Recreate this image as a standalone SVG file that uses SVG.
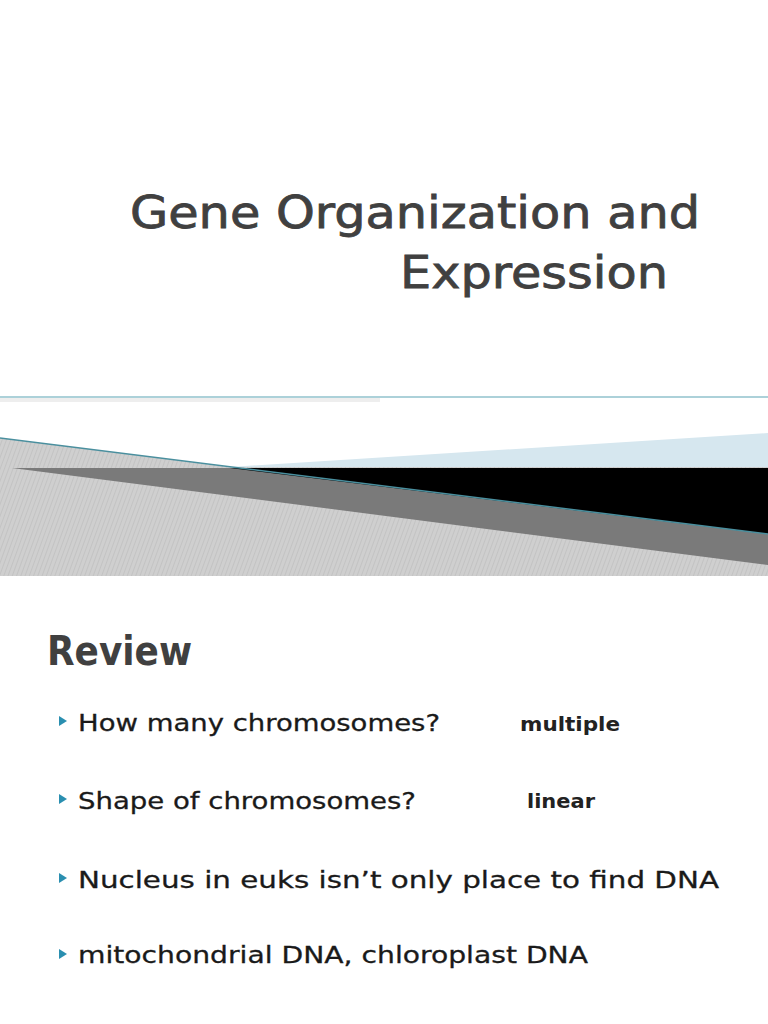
<svg xmlns="http://www.w3.org/2000/svg" width="768" height="1024" viewBox="0 0 768 1024">
<defs>
<pattern id="hatch" width="4" height="4" patternUnits="userSpaceOnUse" patternTransform="rotate(20)"><rect width="4" height="4" fill="#cfcfcf"/><line x1="0" y1="0" x2="0" y2="4" stroke="#b8b8b8" stroke-width="1"/></pattern>
</defs>
<style>
text{font-family:"DejaVu Sans",Verdana,sans-serif;fill:#3a3a3a}
.t{font-size:44px;fill:#404040;stroke:#404040;stroke-width:0.8}
.b{font-size:23px;fill:#1a1a1a;stroke:#1a1a1a;stroke-width:0.3}
.a{font-size:20px;font-weight:bold;fill:#222}
.bul{fill:#2a8fb0}
</style>
<rect width="768" height="1024" fill="#fff"/>
<line x1="0" y1="397" x2="768" y2="397" stroke="#5aa3b3" stroke-width="1.2"/>
<rect x="0" y="398" width="380" height="4" fill="#eeeeee"/>
<polygon points="0,438 230,467 768,467 768,576 0,576" fill="url(#hatch)"/>
<polygon points="230,467 768,433 768,467" fill="#d6e7ef"/>
<polygon points="12,468 768,468 768,565" fill="#7a7a7a"/>
<polygon points="230,468 768,468 768,534" fill="#000"/>
<line x1="0" y1="438" x2="768" y2="534" stroke="#4a8f9e" stroke-width="1.5"/>
<text class="t" x="130" y="228" textLength="570" lengthAdjust="spacingAndGlyphs">Gene Organization and</text>
<text class="t" x="400" y="288" textLength="268" lengthAdjust="spacingAndGlyphs">Expression</text>
<text x="47" y="665" style="font-size:40px;font-weight:bold;fill:#404040" textLength="145" lengthAdjust="spacingAndGlyphs">Review</text>
<polygon class="bul" points="59,716 67,721 59,726"/>
<polygon class="bul" points="59,794 67,799 59,804"/>
<polygon class="bul" points="59,873 67,878 59,883"/>
<polygon class="bul" points="59,949 67,954 59,959"/>
<text class="b" x="78" y="731" textLength="362" lengthAdjust="spacingAndGlyphs">How many chromosomes?</text>
<text class="b" x="78" y="809" textLength="338" lengthAdjust="spacingAndGlyphs">Shape of chromosomes?</text>
<text class="b" x="78" y="888" textLength="641" lengthAdjust="spacingAndGlyphs">Nucleus in euks isn’t only place to find DNA</text>
<text class="b" x="78" y="963" textLength="510" lengthAdjust="spacingAndGlyphs">mitochondrial DNA, chloroplast DNA</text>
<text class="a" x="520" y="731" textLength="100" lengthAdjust="spacingAndGlyphs">multiple</text>
<text class="a" x="527" y="808" textLength="68" lengthAdjust="spacingAndGlyphs">linear</text>
</svg>
